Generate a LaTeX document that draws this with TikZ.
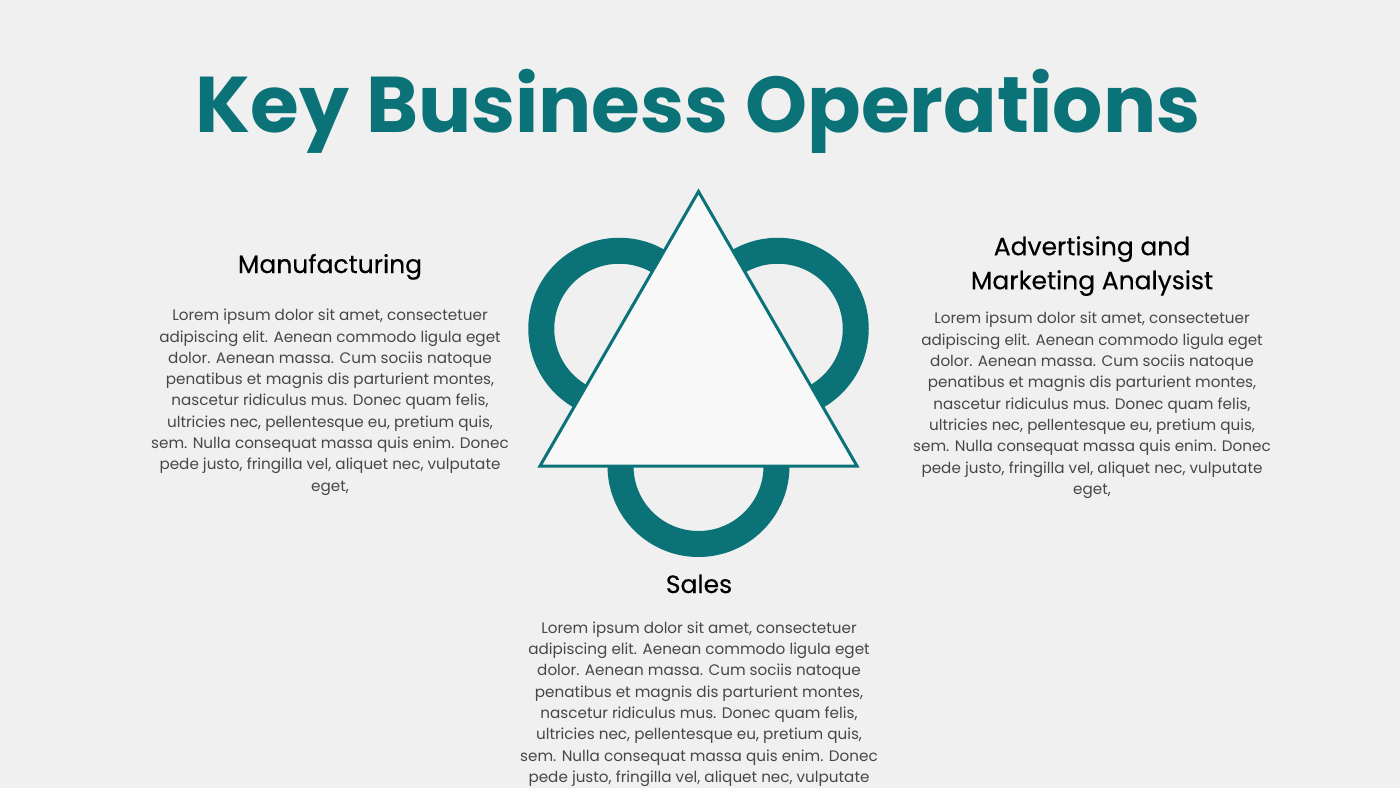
\documentclass[tikz,border=0pt]{standalone}
\usepackage{fontspec}
\setmainfont{Poppins}
\newfontfamily\opsheadfont{Poppins}[FakeBold=0.35]
\usetikzlibrary{positioning, calc}
\definecolor{opsteal}{HTML}{0B7377}
\definecolor{paper}{HTML}{F0F0F0}
\definecolor{bodygray}{HTML}{474747}
\newcommand{\opslorem}{Lorem ipsum dolor sit amet, consectetuer\\
adipiscing elit. Aenean commodo ligula eget\\
dolor.  Aenean massa. Cum sociis natoque\\
penatibus et magnis dis parturient montes,\\
nascetur ridiculus mus. Donec quam felis,\\
ultricies nec, pellentesque eu, pretium quis,\\
sem. Nulla consequat massa quis enim. Donec\\
pede justo, fringilla vel, aliquet nec, vulputate}

\begin{document}
\begin{tikzpicture}[x=1pt,y=-1pt,
                    title/.style={font=\fontsize{79}{86}\selectfont\bfseries, text=opsteal, inner sep=0pt},
                    head/.style={font=\fontsize{25}{34}\selectfont\opsheadfont, text=black, align=center, inner sep=0pt},
                    body/.style={font=\fontsize{15.2}{21.3}\selectfont, text=bodygray, align=center, inner sep=0pt},
                    ring/.style={fill=opsteal, even odd rule},
                    tri/.style={draw=opsteal, fill=paper!50!white, line width=3pt, line join=miter}]
                \useasboundingbox (0,0) rectangle (1400,788);
                \fill[paper] (0,0) rectangle (1400,788);

                \coordinate (apex) at (698.5,191.5);
                \coordinate (baseL) at (540,466);
                \coordinate (baseR) at (857,466);
                \coordinate (midL) at ($(apex)!0.5!(baseL)$);
                \coordinate (midR) at ($(apex)!0.5!(baseR)$);
                \coordinate (midB) at ($(baseL)!0.5!(baseR)$);

                \fill[ring] (midL) circle[radius=91pt] circle[radius=65pt];
                \fill[ring] (midR) circle[radius=91pt] circle[radius=65pt];
                \fill[ring] (midB) circle[radius=91pt] circle[radius=65pt];
                \draw[tri] (apex) -- (baseL) -- (baseR) -- cycle;

                \node[title, anchor=base] (title) at (698,132) {Key Business Operations};

                \node[head, anchor=base] (mfghead) at (330,273) {Manufacturing};
                \node[body, below=29pt of mfghead] (mfgbody) {\opslorem\\eget,};

                \node[head, anchor=north] (adhead) at (1092,236) {Advertising and\\Marketing Analysist};
                \node[body, below=16pt of adhead] (adbody) {\opslorem\\eget,};

                \node[head, anchor=base] (saleshead) at (699,593) {Sales};
                \node[body, below=28pt of saleshead] (salesbody) {\opslorem};
            \end{tikzpicture}
\end{document}
